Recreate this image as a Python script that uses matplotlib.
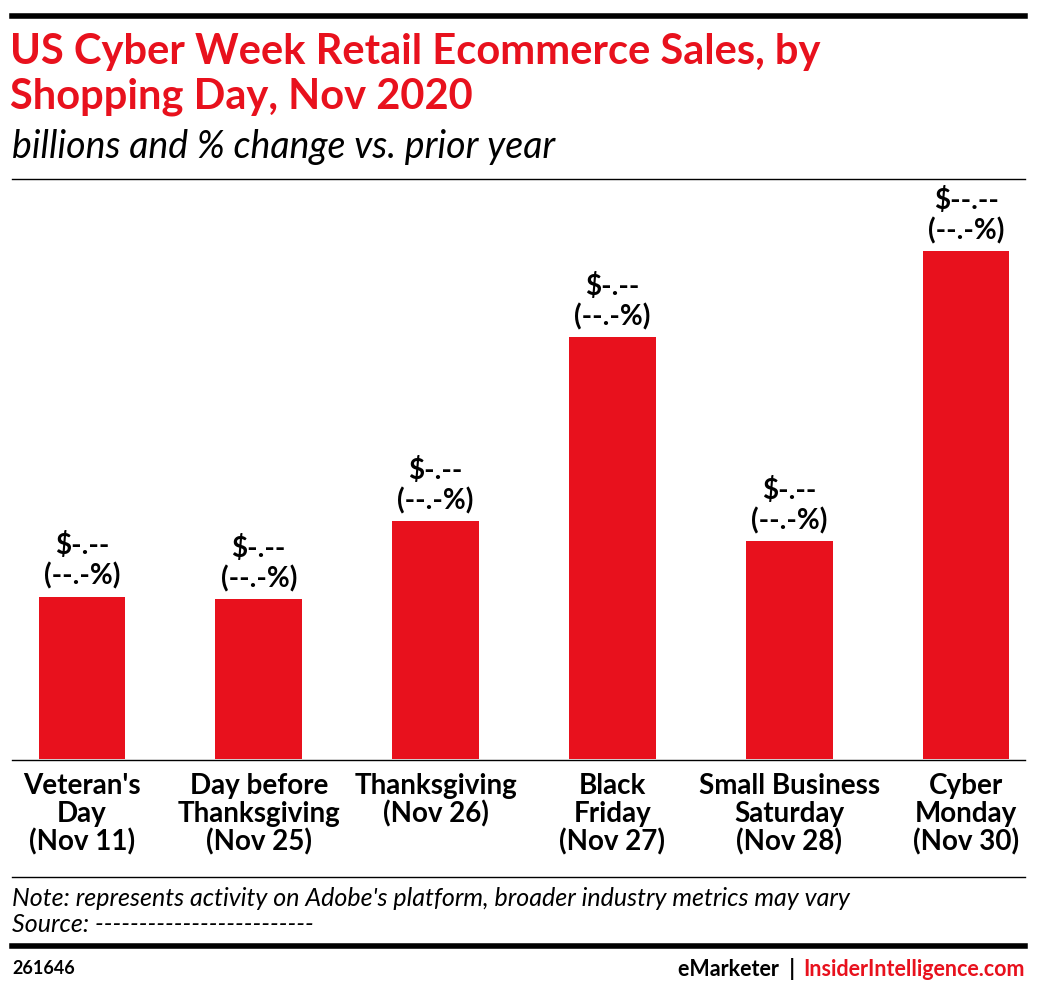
import matplotlib
matplotlib.use("Agg")
import matplotlib.pyplot as plt
from matplotlib.lines import Line2D

plt.rcParams['font.family'] = ['Lato', 'DejaVu Sans']

categories = ["Veteran's\nDay\n(Nov 11)", "Day before\nThanksgiving\n(Nov 25)", "Thanksgiving\n(Nov 26)",
              "Black\nFriday\n(Nov 27)", "Small Business\nSaturday\n(Nov 28)", "Cyber\nMonday\n(Nov 30)"]
values = [3.45, 3.40, 5.06, 8.98, 4.64, 10.81]
labels = ["$-.--\n(--.-%)", "$-.--\n(--.-%)", "$-.--\n(--.-%)", "$-.--\n(--.-%)", "$-.--\n(--.-%)", "$--.--\n(--.-%)"]

W, H = 1038, 993
fig = plt.figure(figsize=(W/100, H/100), dpi=100)
red = '#E8111D'

def fy(p): return 1 - p/H
def fx(p): return p/W

ax = fig.add_axes([fx(12), fy(759), fx(1025-12), (759-180)/H])
x = list(range(len(values)))
ax.bar(x, values, width=0.49, color=red)
ax.set_xlim(-0.395, 5.333)
ax.set_ylim(0, 12.32)
for s in ax.spines.values():
    s.set_visible(False)
ax.set_yticks([])
ax.set_xticks([])
for xi, v, l in zip(x, values, labels):
    ax.annotate(l, (xi, v), xytext=(0, 5), textcoords='offset points', ha='center', va='bottom',
                fontsize=20, fontweight='bold', linespacing=1.15)
for xi, c in zip(x, categories):
    ax.annotate(c, (xi, 0), xytext=(0, -10), textcoords='offset points', ha='center', va='top',
                fontsize=20, fontweight='bold', linespacing=1.08)

def hline(y, lw):
    fig.add_artist(Line2D([fx(12), fx(1025)], [fy(y), fy(y)], color='black', lw=lw))
hline(16, 4)
hline(179, 1)
hline(760, 1)
hline(877, 1)
hline(946, 4)

fig.text(fx(10), fy(52), "US Cyber Week Retail Ecommerce Sales, by", color=red,
         fontsize=30, fontweight='bold', va='center', ha='left')
fig.text(fx(10), fy(97), "Shopping Day, Nov 2020", color=red,
         fontsize=30, fontweight='bold', va='center', ha='left')
fig.text(fx(12), fy(147), "billions and % change vs. prior year", fontsize=27, style='italic', va='center')
fig.text(fx(12), fy(898), "Note: represents activity on Adobe's platform, broader industry metrics may vary",
         fontsize=18, style='italic', va='center')
fig.text(fx(12), fy(925), "Source: -------------------------", fontsize=18, style='italic', va='center')
fig.text(fx(12), fy(969), "261646", fontsize=13, fontweight='bold', va='center')
fig.text(fx(1025), fy(969), "InsiderIntelligence.com", fontsize=15.5, fontweight='bold', color=red, va='center', ha='right')
fig.text(fx(795), fy(969), "eMarketer  |", fontsize=15.5, fontweight='bold', va='center', ha='right')

fig.savefig("out.png", dpi=100)
